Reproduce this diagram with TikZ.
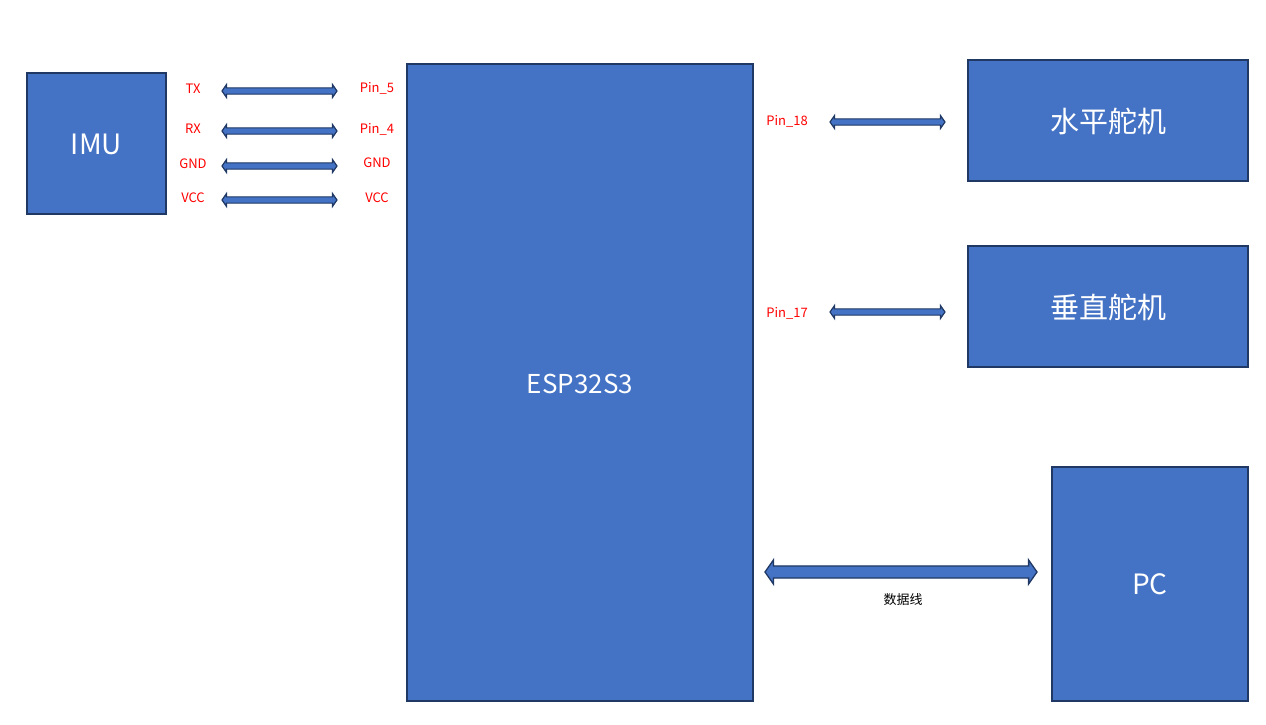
\documentclass[tikz,border=0pt]{standalone}
\usepackage{fontspec}
\setmainfont{Noto Sans CJK SC}
\usetikzlibrary{shapes.arrows}
\definecolor{bfill}{HTML}{4472C4}
\definecolor{bdraw}{HTML}{1F3864}
\begin{document}
\begin{tikzpicture}[x=1pt,y=-1pt,
 blk/.style={draw=bdraw,fill=bfill,line width=1.5pt,text=white,font=\fontsize{26}{30}\selectfont},
 lbl/.style={text=red,font=\fontsize{13}{15}\selectfont,inner sep=0pt},
 darr/.style={double arrow,draw=bdraw,fill=bfill,line width=1.2pt,inner sep=2.2pt,minimum width=13pt,double arrow head extend=3pt,double arrow tip angle=110},
 bigarr/.style={double arrow,draw=bdraw,fill=bfill,line width=1.3pt,inner sep=4.5pt,minimum width=24pt,double arrow head extend=5pt,double arrow tip angle=110}]
\useasboundingbox (0,0) rectangle (1266,725);
\path[blk] (27,73) rectangle (166,214); \node[text=white,font=\fontsize{28}{32}\selectfont] (imu) at (96.5,144) {IMU};
\path[blk] (407,64) rectangle (753,701); \node[text=white,font=\fontsize{26}{30}\selectfont] (esp) at (580,384) {ESP32S3};
\path[blk] (968,60) rectangle (1248,181); \node[text=white,font=\fontsize{29}{32}\selectfont] (h) at (1108,121) {水平舵机};
\path[blk] (968,246) rectangle (1248,367); \node[text=white,font=\fontsize{29}{32}\selectfont] (v) at (1108,307) {垂直舵机};
\path[blk] (1052,467) rectangle (1248,701); \node[text=white,font=\fontsize{28}{32}\selectfont] (pc) at (1150,584) {PC};
\foreach \y/\a/\b/\n [count=\i] in {89/TX/Pin\_5/88,129/RX/Pin\_4/129,164/GND/GND/163,198/VCC/VCC/198}{
 \node[lbl] (l\i) at (193,\y) {\a};
 \node[lbl] (r\i) at (377,\n) {\b};
 \node[darr,minimum height=115pt] (a\i) at (279.5,\y+2) {};
}
\node[lbl] (p18) at (787,121) {Pin\_18};
\node[darr,minimum height=115pt] (a18) at (887.5,122) {};
\node[lbl] (p17) at (787,313) {Pin\_17};
\node[darr,minimum height=115pt] (a17) at (887.5,312) {};
\node[bigarr,minimum height=272pt] (big) at (901,572) {};
\node[font=\fontsize{13}{15}\selectfont] (sj) at (903,600) {数据线};
\end{tikzpicture}
\end{document}
